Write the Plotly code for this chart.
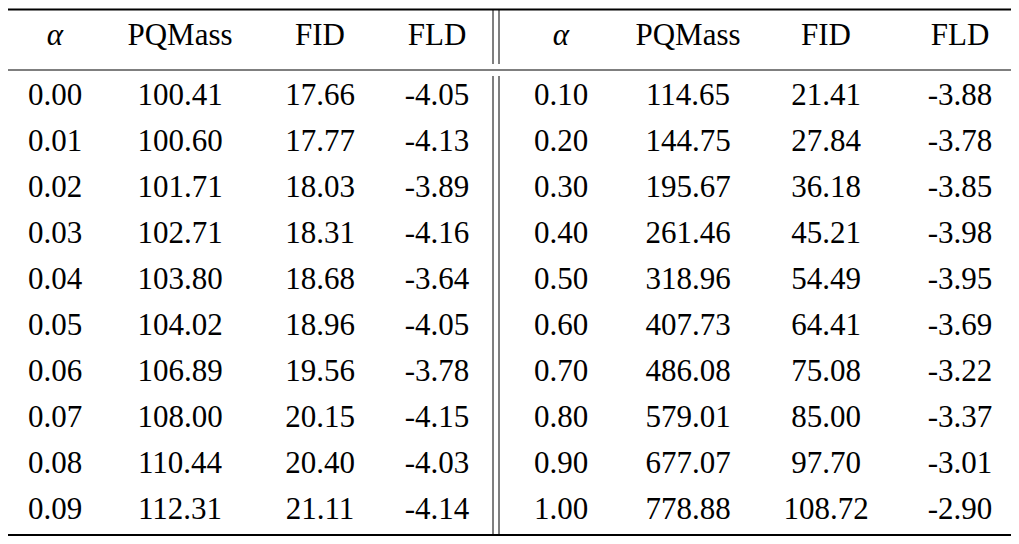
import plotly.graph_objects as go

# table data
alpha_left = ["0.00", "0.01", "0.02", "0.03", "0.04", "0.05", "0.06", "0.07", "0.08", "0.09"]
pqmass_left = ["100.41", "100.60", "101.71", "102.71", "103.80", "104.02", "106.89", "108.00", "110.44", "112.31"]
fid_left = ["17.66", "17.77", "18.03", "18.31", "18.68", "18.96", "19.56", "20.15", "20.40", "21.11"]
fld_left = ["-4.05", "-4.13", "-3.89", "-4.16", "-3.64", "-4.05", "-3.78", "-4.15", "-4.03", "-4.14"]

alpha_right = ["0.10", "0.20", "0.30", "0.40", "0.50", "0.60", "0.70", "0.80", "0.90", "1.00"]
pqmass_right = ["114.65", "144.75", "195.67", "261.46", "318.96", "407.73", "486.08", "579.01", "677.07", "778.88"]
fid_right = ["21.41", "27.84", "36.18", "45.21", "54.49", "64.41", "75.08", "85.00", "97.70", "108.72"]
fld_right = ["-3.88", "-3.78", "-3.85", "-3.98", "-3.95", "-3.69", "-3.22", "-3.37", "-3.01", "-2.90"]

headers = ["<i>α</i>", "PQMass", "FID", "FLD", "<i>α</i>", "PQMass", "FID", "FLD"]
columns = [alpha_left, pqmass_left, fid_left, fld_left,
           alpha_right, pqmass_right, fid_right, fld_right]

# layout in page pixel units (page has 8px body margin)
col_x = [55, 180, 320, 437, 561, 688, 826, 960]
header_y = 37
row_y0, row_step = 97, 46
font = dict(family="Liberation Serif", size=31, color="black")

fig = go.Figure()
for cx, head, vals in zip(col_x, headers, columns):
    fig.add_trace(go.Scatter(
        x=[cx] * (len(vals) + 1),
        y=[header_y] + [row_y0 + i * row_step for i in range(len(vals))],
        text=[head] + vals,
        mode="text", textposition="middle center",
        textfont=font, showlegend=False, hoverinfo="skip",
    ))

# booktabs-style rules
rules = [(9.5, 2.2), (70, 1.1), (535, 2.2)]
for y, w in rules:
    fig.add_shape(type="line", x0=8, x1=1011, y0=y, y1=y, line=dict(color="black", width=w))
for vx in (493, 499):
    fig.add_shape(type="line", x0=vx, x1=vx, y0=10, y1=64, line=dict(color="black", width=1))
    fig.add_shape(type="line", x0=vx, x1=vx, y0=76, y1=534, line=dict(color="black", width=1))

fig.update_layout(
    width=1003, height=528,
    margin=dict(l=0, r=0, t=0, b=0),
    paper_bgcolor="white", plot_bgcolor="white",
    xaxis=dict(range=[8, 1011], visible=False, fixedrange=True),
    yaxis=dict(range=[536, 8], visible=False, fixedrange=True),
)
fig.write_html("out.html")
